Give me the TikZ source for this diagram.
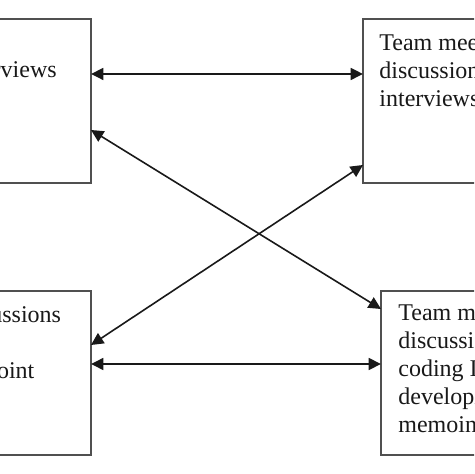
\documentclass[tikz,border=0pt]{standalone}
\usepackage{fontspec}
\setmainfont{Liberation Serif}
\usetikzlibrary{positioning,arrows.meta}
\definecolor{boxcol}{RGB}{80,80,80}
\definecolor{linkcol}{RGB}{25,25,25}

\begin{document}
\begin{tikzpicture}[
  x=0.5pt, y=-0.5pt,
  every node/.style={font=\fontsize{12}{14}\selectfont},
  %% activity box — plain grey frame
  actbox/.style={
    draw=boxcol, line width=0.8pt, fill=white,
    minimum width=82pt, minimum height=82pt,
    inner sep=0pt, outer sep=0pt
  },
  %% text block inside a box, hung from its top left corner
  txt/.style={
    anchor=north west, align=left,
    inner sep=0pt, text=black!90
  },
  %% two-headed links between the activities
  link/.style={
    {Triangle[length=6.2pt,width=6pt]}-{Triangle[length=6.2pt,width=6pt]},
    line width=0.8pt, linkcol
  },
]

%%── Frame of the cropped figure ──────────────────────────────────────────────
\useasboundingbox (0,0) rectangle (474,474);
\clip (0,0) rectangle (474,474);

%%── The four boxes ───────────────────────────────────────────────────────────
\node[actbox] (tl) at (9,101) {};
\node[actbox, right=136pt of tl] (tr) {};
\node[actbox, below=54pt of tl] (bl) {};
\node[actbox, right=145pt of bl] (br) {};

%%── Box texts ────────────────────────────────────────────────────────────────
\node[txt] (tltxt) at ([xshift=14pt, yshift=-19.2pt]tl.north west)
  {\strut Interviews};
\node[txt] (trtxt) at ([xshift=8pt, yshift=-5.7pt]tr.north west)
  {\strut Team meetings\\discussions\\interviews};
\node[txt] (bltxt) at ([xshift=9.5pt, yshift=-5.7pt]bl.north west)
  {\strut Discussions\\[14pt]Endpoint};
\node[txt] (brtxt) at ([xshift=8.5pt, yshift=-4.7pt]br.north west)
  {\strut Team meetings\\discussions\\coding IPA\\developing\\memoing};

%%── Links ────────────────────────────────────────────────────────────────────
\draw[link] ([yshift=13.5pt]tl.east) -- ([yshift=13.5pt]tr.west);
\draw[link] ([yshift=-14.5pt]tl.east) -- ([yshift=32pt]br.west);
\draw[link] ([yshift=-32pt]tr.west) -- ([yshift=14pt]bl.east);
\draw[link] ([yshift=4.5pt]bl.east) -- ([yshift=4.5pt]br.west);

\end{tikzpicture}
\end{document}
